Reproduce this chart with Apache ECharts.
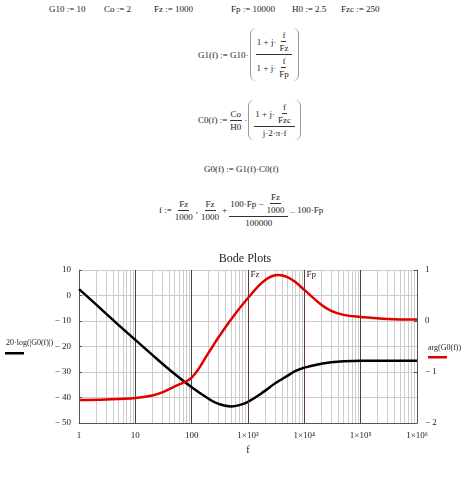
<!DOCTYPE html>
<html><head><meta charset="utf-8">
<script src="https://cdn.jsdelivr.net/npm/echarts@6/dist/echarts.min.js"></script>
<style>
body{margin:0;width:474px;height:482px;background:#fff;font-family:"Liberation Serif",serif;font-size:9px;color:#222;position:relative;overflow:hidden}
.t{position:absolute;white-space:nowrap;display:flex;align-items:center}
.fr{display:inline-flex;flex-direction:column;align-items:center;margin:0 2px}
.n{border-bottom:1px solid #333;padding:0 1px 1px 1px;display:flex;align-items:center}
.d{padding:1px 1px 0 1px;display:flex;align-items:center}
.pr{display:inline-flex;align-items:center;border-left:1px solid #999;border-right:1px solid #999;border-radius:6px;padding:2px 3px;margin-left:1px}
#chart{position:absolute;left:0;top:240px;width:474px;height:242px}
</style></head>
<body>
<div class="t" style="left:49px;top:4px">G10 := 10</div>
<div class="t" style="left:104px;top:4px">Co := 2</div>
<div class="t" style="left:154px;top:4px">Fz := 1000</div>
<div class="t" style="left:231px;top:4px">Fp := 10000</div>
<div class="t" style="left:292px;top:4px">H0 := 2.5</div>
<div class="t" style="left:341px;top:4px">Fzc := 250</div>

<div class="t" style="left:198px;top:28px">G1(f) := G10·<span class="pr"><span class="fr"><span class="n">1 + j·<span class="fr"><span class="n">f</span><span class="d">Fz</span></span></span><span class="d">1 + j·<span class="fr"><span class="n">f</span><span class="d">Fp</span></span></span></span></span></div>

<div class="t" style="left:198px;top:100px">C0(f) := <span class="fr"><span class="n">Co</span><span class="d">H0</span></span>·<span class="pr"><span class="fr"><span class="n">1 + j·<span class="fr"><span class="n">f</span><span class="d">Fzc</span></span></span><span class="d">j·2·π·f</span></span></span></div>

<div class="t" style="left:204px;top:164px">G0(f) := G1(f)·C0(f)</div>

<div class="t" style="left:159px;top:192px">f := <span class="fr"><span class="n">Fz</span><span class="d">1000</span></span>, <span class="fr"><span class="n">Fz</span><span class="d">1000</span></span> + <span class="fr"><span class="n">100·Fp − <span class="fr"><span class="n">Fz</span><span class="d">1000</span></span></span><span class="d">100000</span></span> .. 100·Fp</div>

<div id="chart"></div>
<script>
var magF = [1, 2, 5, 10, 20, 50, 100, 200, 300, 500, 700, 1000, 2000, 3000, 5000, 7000, 10000, 20000, 30000, 50000, 100000, 1000000];
var magDb = [2.5, -3.5, -11.5, -17.4, -23.3, -30.8, -36, -40.5, -42.5, -43.5, -43, -41.7, -37.4, -34.5, -31.5, -29.6, -28.3, -26.8, -26.2, -25.8, -25.6, -25.6];
var phF = [1, 3, 10, 20, 30, 50, 100, 200, 300, 500, 1000, 2000, 3500, 5000, 7000, 10000, 20000, 30000, 50000, 100000, 300000, 1000000];
var phRad = [-1.55, -1.54, -1.51, -1.46, -1.40, -1.28, -1.11, -0.62, -0.32, 0.03, 0.45, 0.80, 0.90, 0.86, 0.76, 0.61, 0.32, 0.20, 0.12, 0.08, 0.04, 0.03];
var markF = [1000, 10000];
var markNames = ['Fz', 'Fp'];

function pair(xs, ys){ return xs.map(function(x, i){ return [x, ys[i]]; }); }
function minus(v){ return v < 0 ? '− ' + (-v) : '' + v; }
var sup = {3:'³',4:'⁴',5:'⁵',6:'⁶'};

var chart = echarts.init(document.getElementById('chart'));
chart.setOption({
	animation: false,
	textStyle: {fontFamily: 'Liberation Serif'},
	title: {text: 'Bode Plots', left: 240, top: 8, textAlign: 'center',
		textStyle: {fontFamily: 'Liberation Serif', fontSize: 12, fontWeight: 'normal', color: '#222'}},
	grid: {left: 79, right: 57, top: 30, bottom: 59},
	xAxis: {
		type: 'log', min: 1, max: 1000000, logBase: 10,
		name: 'f', nameLocation: 'middle', nameGap: 22, nameTextStyle: {fontSize: 10, color: '#222'},
		axisLine: {onZero: false, lineStyle: {color: '#555'}},
		axisTick: {show: false},
		axisLabel: {color: '#222', fontSize: 9, margin: 8,
			formatter: function(v){ var e = Math.round(Math.log10(v)); return e < 3 ? '' + v : '1×10' + sup[e]; }},
		splitLine: {show: true, lineStyle: {color: '#444', width: 1}},
		minorTick: {show: false, splitNumber: 9},
		minorSplitLine: {show: true, lineStyle: {color: '#ccc'}}
	},
	yAxis: [{
		type: 'value', min: -50, max: 10, interval: 10,
		axisLine: {show: true, lineStyle: {color: '#555'}},
		axisTick: {show: true, inside: true, length: 3},
		axisLabel: {color: '#222', fontSize: 9, formatter: minus},
		splitLine: {lineStyle: {color: '#ccc'}}
	}, {
		type: 'value', min: -2, max: 1, interval: 1,
		axisLine: {show: true, lineStyle: {color: '#555'}},
		axisTick: {show: true, inside: true, length: 3},
		axisLabel: {color: '#222', fontSize: 9, formatter: minus},
		splitLine: {show: false}
	}],
	series: [{
		type: 'line', yAxisIndex: 0, data: pair(magF, magDb), smooth: 0.4, showSymbol: false,
		lineStyle: {color: '#000', width: 2.5},
		markLine: {symbol: 'none', silent: true,
			lineStyle: {color: '#803030', type: [2, 2], width: 1},
			label: {position: 'end', color: '#222', fontSize: 9, offset: [7, 14],
				formatter: function(p){ return markNames[p.dataIndex]; }},
			data: markF.map(function(v){ return {xAxis: v}; })}
	}, {
		type: 'line', yAxisIndex: 1, data: pair(phF, phRad), smooth: 0.4, showSymbol: false,
		lineStyle: {color: '#e00000', width: 2.5}
	}],
	graphic: [
		{type: 'text', left: 6, top: 99, style: {text: '20·log(|G0(f)|)', fontSize: 8, fontFamily: 'Liberation Serif', fill: '#222'}},
		{type: 'rect', shape: {x: 5, y: 112, width: 19, height: 2.5}, style: {fill: '#000'}},
		{type: 'text', left: 428, top: 104, style: {text: 'arg(G0(f))', fontSize: 8, fontFamily: 'Liberation Serif', fill: '#222'}},
		{type: 'rect', shape: {x: 428, y: 116, width: 19, height: 2.5}, style: {fill: '#e00000'}}
	]
});
</script>
</body></html>
